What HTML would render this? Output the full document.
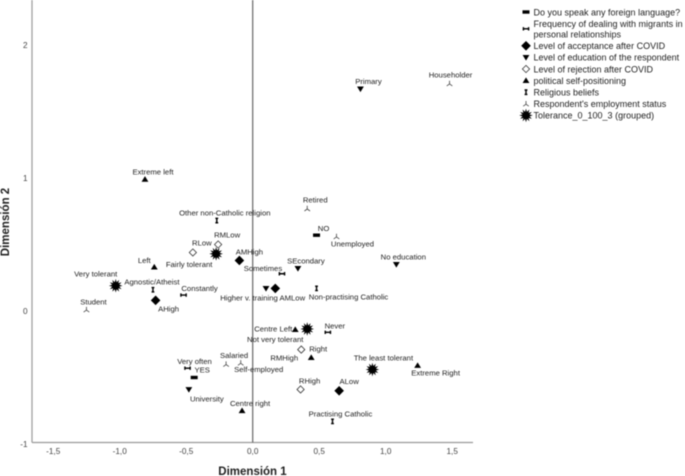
<!DOCTYPE html>
<html>
<head>
<meta charset="utf-8">
<style>
html,body{margin:0;padding:0;background:#fff;width:685px;height:476px;overflow:hidden}
svg{display:block;filter:blur(0.45px)}
text{font-family:"Liberation Sans",Arial,sans-serif}
</style>
</head>
<body>
<svg id="chart" xmlns="http://www.w3.org/2000/svg" width="685" height="476" viewBox="0 0 685 476">
<rect width="685" height="476" fill="#fff"/>
<g id="axes"></g>
<g id="marks"></g>
<g id="legend"></g>
</svg>
<script>
const xTicks = [-1.5, -1.0, -0.5, 0.0, 0.5, 1.0, 1.5];
const yTicks = [2, 1, 0, -1];
const xTickLabels = ["-1,5", "-1,0", "-0,5", "0,0", "0,5", "1,0", "1,5"];
const yTickLabels = ["2", "1", "0", "-1"];
const xTitle = "Dimensión 1";
const yTitle = "Dimensión 2";

const seriesNames = [
  "Do you speak any foreign language?",
  "Frequency of dealing with migrants in|personal relationships",
  "Level of acceptance after COVID",
  "Level of education of the respondent",
  "Level of rejection after COVID",
  "political self-positioning",
  "Religious beliefs",
  "Respondent's employment status",
  "Tolerance_0_100_3 (grouped)"
];
const seriesSymbols = ["rect", "bowtie", "diamond", "down", "openDiamond", "up", "ibeam", "tri", "star"];

const pointLabels = ["Primary", "Householder", "Extreme left", "Other non-Catholic religion", "RMLow", "Retired", "NO", "Unemployed", "RLow", "Fairly tolerant", "AMHigh", "Left", "Very tolerant", "Agnostic/Atheist", "Constantly", "AHigh", "Student", "Sometimes", "SEcondary", "No education", "Higher v. training", "AMLow", "Non-practising Catholic", "Centre Left", "Not very tolerant", "Never", "RMHigh", "Right", "The least tolerant", "Extreme Right", "ALow", "RHigh", "Practising Catholic", "Centre right", "University", "YES", "Very often", "Salaried", "Self-employed"];
const pointSeries = [3, 7, 5, 6, 4, 7, 0, 7, 4, 8, 2, 5, 8, 6, 1, 2, 7, 1, 3, 3, 3, 2, 6, 5, 8, 1, 4, 5, 8, 5, 2, 4, 6, 5, 3, 0, 1, 7, 7];
const dim1Values = [0.81, 1.48, -0.81, -0.27, -0.26, 0.41, 0.48, 0.63, -0.45, -0.275, -0.10, -0.74, -1.03, -0.75, -0.52, -0.73, -1.25, 0.22, 0.34, 1.08, 0.10, 0.17, 0.48, 0.32, 0.41, 0.565, 0.365, 0.44, 0.90, 1.24, 0.65, 0.36, 0.60, -0.08, -0.48, -0.44, -0.49, -0.20, -0.09];
const dim2Values = [1.67, 1.71, 0.99, 0.68, 0.50, 0.77, 0.57, 0.56, 0.44, 0.43, 0.38, 0.33, 0.19, 0.16, 0.12, 0.08, 0.01, 0.28, 0.32, 0.35, 0.17, 0.17, 0.17, -0.14, -0.135, -0.16, -0.29, -0.35, -0.44, -0.41, -0.60, -0.59, -0.83, -0.75, -0.59, -0.50, -0.43, -0.40, -0.39];
const labelOffsetX = [8, 1, 8, 8, 9, 8, 7, 16, 9, -27, 10, -10, -20, -1, 16, 13, 7, -19, 8, 7, -17, 17, 32, -22, -32, 7, -17, 7, 11, 18, 10, 9, 8, 8, 18, 8, 7, 8, 18];
const labelOffsetY = [-8, -9, -8, -8, -10, -9, -7, 7, -10, 10, -9, -7, -12, -8, -7, 8, -8, -6, -8, -8, 9, 9, 8, -1, 10, -7, 8, -9, -12, 7, -10, -9, -8, -8, 9, -8, -7, -9, 6];

const svgNS = "http://www.w3.org/2000/svg";
const plotLeft = 32, plotRight = 473, plotTop = 0, plotBottom = 442.5;
const xZero = 252.7, yZero = 311, unit = 133;
function xScale(v) { return xZero + v * unit; }
function yScale(v) { return yZero - v * unit; }

function make(tag, attrs, parent) {
  const el = document.createElementNS(svgNS, tag);
  for (const k in attrs) el.setAttribute(k, attrs[k]);
  parent.appendChild(el);
  return el;
}
function slug(s) { return s.toLowerCase().replace(/[^a-z0-9]+/g, "-").replace(/^-|-$/g, ""); }

function drawSymbol(kind, x, y, parent) {
  const g = make("g", { transform: "translate(" + x + " " + y + ")" }, parent);
  const dark = "#000";
  if (kind === "rect") {
    make("rect", { x: -3.5, y: -1.7, width: 7, height: 3.4, fill: dark }, g);
  } else if (kind === "bowtie") {
    make("path", { d: "M-2.6 -1.7V1.7M2.6 -1.7V1.7M-2.6 0H2.6", stroke: dark, "stroke-width": 1.4, fill: "none" }, g);
  } else if (kind === "diamond") {
    make("polygon", { points: "0,-4.8 4.8,0 0,4.8 -4.8,0", fill: dark }, g);
  } else if (kind === "down") {
    make("polygon", { points: "-3.4,-2.4 3.4,-2.4 0,3.2", fill: dark }, g);
  } else if (kind === "openDiamond") {
    make("polygon", { points: "0,-3.6 3.6,0 0,3.6 -3.6,0", fill: "#fff", stroke: "#333", "stroke-width": 0.8 }, g);
  } else if (kind === "up") {
    make("polygon", { points: "-3.4,2.4 3.4,2.4 0,-3.2", fill: dark }, g);
  } else if (kind === "ibeam") {
    make("path", { d: "M-1.4 -2.2H1.4M-1.4 2.2H1.4M0 -2.2V2.2", stroke: dark, "stroke-width": 1.4, fill: "none" }, g);
  } else if (kind === "tri") {
    make("path", { d: "M0 -2.8V0.4M0 0.4L-2.8 2.4M0 0.4L2.8 2.4", stroke: "#444", "stroke-width": 0.8, fill: "none" }, g);
  } else if (kind === "star") {
    let pts = [];
    for (let i = 0; i < 24; i++) {
      const r = i % 2 === 0 ? 6.8 : 3.6;
      const a = i * Math.PI / 12;
      pts.push((r * Math.sin(a)).toFixed(2) + "," + (-r * Math.cos(a)).toFixed(2));
    }
    make("polygon", { points: pts.join(" "), fill: dark }, g);
  }
  return g;
}

const axes = document.getElementById("axes");
const marks = document.getElementById("marks");
const legend = document.getElementById("legend");

const yAxisLine = make("line", { x1: plotLeft, x2: plotLeft, y1: plotTop, y2: plotBottom, stroke: "#999", "stroke-width": 1.2 }, axes);


const xAxisLine = make("line", { x1: plotLeft, x2: plotRight, y1: plotBottom, y2: plotBottom, stroke: "#999", "stroke-width": 1.2 }, axes);


const refLine = make("line", { x1: xScale(0), x2: xScale(0), y1: plotTop, y2: plotBottom, stroke: "#666", "stroke-width": 1.2 }, axes);



xTicks.forEach(function (t, i) {
  const el = make("text", { x: xScale(t), y: 454, "text-anchor": "middle", "font-size": 8.2, fill: "#444" }, axes);
  el.textContent = xTickLabels[i];
  
  
});
yTicks.forEach(function (t, i) {
  const el = make("text", { x: 27.5, y: yScale(t) + 3, "text-anchor": "end", "font-size": 8.2, fill: "#444" }, axes);
  el.textContent = yTickLabels[i];
  
  
});

const xTitleEl = make("text", { x: 252.5, y: 475, "text-anchor": "middle", "font-size": 11.5, "font-weight": "bold", fill: "#222" }, axes);
xTitleEl.textContent = xTitle;


const yTitleEl = make("text", { transform: "translate(9 222) rotate(-90)", "text-anchor": "middle", "font-size": 11.5, "font-weight": "bold", fill: "#222" }, axes);
yTitleEl.textContent = yTitle;



pointLabels.forEach(function (name, i) {
  const px = xScale(dim1Values[i]), py = yScale(dim2Values[i]);
  const sym = drawSymbol(seriesSymbols[pointSeries[i]], px, py, marks);
  
  
  const lab = make("text", { x: px + labelOffsetX[i], y: py + labelOffsetY[i] + 3, "text-anchor": "middle", "font-size": 7.7, fill: "#222" }, marks);
  lab.textContent = name;
  
  
});

let legendY = 12;
seriesNames.forEach(function (name, i) {
  const lines = name.split("|");
  const sy = lines.length > 1 ? legendY + 5.2 : legendY;
  const sym = drawSymbol(seriesSymbols[i], 526, sy, legend);
  
  
  lines.forEach(function (ln, j) {
    const t = make("text", { x: 533.5, y: legendY + 3.3, "font-size": 9, fill: "#222" }, legend);
    t.textContent = ln;
    
    
    if (j < lines.length - 1) legendY += 10.6;
  });
  legendY += 11.6;
});
</script>
</body>
</html>
